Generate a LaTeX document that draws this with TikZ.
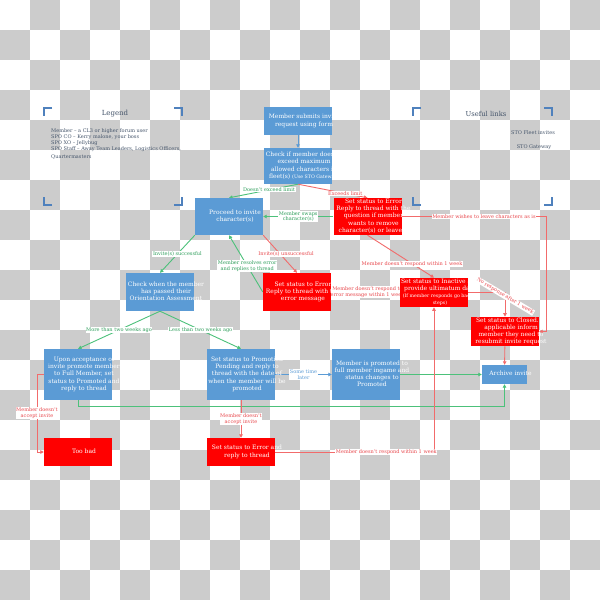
\documentclass[tikz,border=0pt]{standalone}
\usepackage{fontspec}
\setmainfont{DejaVu Serif}
\usetikzlibrary{arrows.meta,backgrounds}
\pgfdeclarelayer{links}
\pgfsetlayers{background,links,main}

\definecolor{boxblue}{HTML}{5B9BD5}
\definecolor{boxred}{HTML}{FF0000}
\definecolor{linegreen}{HTML}{4CC17A}
\definecolor{linered}{HTML}{F26B6B}
\definecolor{textgreen}{HTML}{2E9E5B}
\definecolor{textred}{HTML}{E8474C}
\definecolor{legendtext}{HTML}{44546A}
\definecolor{checkgray}{HTML}{CCCCCC}
\definecolor{bracketblue}{HTML}{4F81BD}

\newcommand{\tinytext}[1]{{\fontsize{4.7}{5.8}\selectfont #1}}
% box text sits a little right of centre, long lines run over the right edge
\newcommand{\boxlines}[1]{\hspace*{12pt}\begin{tabular}{@{}c@{}}#1\end{tabular}}

\tikzset{
    bluebox/.style={fill=boxblue, text=white, inner xsep=-20pt, inner ysep=0pt, minimum width=68pt, font=\fontsize{6}{7.3}\selectfont},
    redbox/.style={bluebox, fill=boxred},
    lbl/.style={fill=white, inner sep=0.6pt, align=center, font=\fontsize{5}{5.8}\selectfont},
    glbl/.style={lbl, text=textgreen},
    rlbl/.style={lbl, text=textred},
    tip/.style={-{Triangle[length=3.5pt,width=3.5pt]}},
    glink/.style={draw=linegreen, line width=0.9pt, tip},
    rlink/.style={draw=linered, line width=0.9pt, tip},
    blink/.style={draw=boxblue, line width=0.9pt, tip},
    bracket/.style={draw=bracketblue, line width=2pt},
    legendstyle/.style={text=legendtext, inner sep=0pt}
}

\begin{document}
\begin{tikzpicture}[x=1pt, y=-1pt]
    \useasboundingbox (0,0) rectangle (600,600);

    % checkerboard
    \begin{scope}[on background layer]
        \fill[white] (0,0) rectangle (600,600);
        \foreach \j in {0,...,19}
            \foreach \i in {0,2,...,18}
                \fill[checkgray] ({30*(\i+mod(\j+1,2))},30*\j) rectangle ++(30,30);
    \end{scope}

    % legend and links frames
    \foreach \cx/\cy/\sx/\sy in {44/108/1/1, 182/108/-1/1, 44/205/1/-1, 182/205/-1/-1, 413/108/1/1, 552/108/-1/1, 413/205/1/-1, 552/205/-1/-1}
        \draw[bracket] (\cx+8*\sx,\cy) -- (\cx,\cy) -- (\cx,\cy+8*\sy);

    \node[legendstyle, font=\fontsize{7}{8}\selectfont] (legendtitle) at (115,114) {Legend};
    \node[legendstyle, font=\fontsize{5}{6}\selectfont, align=left, anchor=north west] (legendbody) at (51,128.5)
        {Member – a CL3 or higher forum user\\SPO CO – Kerry malone, your boss\\SPO XO – Jellybug\\SPO Staff – Away Team Leaders, Logistics Officers,\\[2pt]Quartermasters};
    \node[legendstyle, font=\fontsize{6.8}{8}\selectfont] (linkstitle) at (486,114) {Useful links};
    \node[legendstyle, font=\fontsize{5}{6}\selectfont] (fleetlink) at (533,133) {STO Fleet invites};
    \node[legendstyle, font=\fontsize{5}{6}\selectfont] (gatewaylink) at (534,147) {STO Gateway};

    % boxes
    \node[bluebox, minimum height=28pt] (submit) at (298,121) {\boxlines{Member submits invite\\request using form}};
    \node[bluebox, minimum height=36pt] (check) at (298,166) {\boxlines{Check if member doesn't\\exceed maximum\\allowed characters in\\fleet(s) \tinytext{(Use STO Gateway)}}};
    \node[bluebox, minimum height=37pt] (proceed) at (229,216.5) {\boxlines{Proceed to invite\\character(s)}};
    \node[redbox, minimum height=37pt] (askerror) at (367.5,216.5) {\boxlines{Set status to Error\\Reply to thread with the\\question if member\\wants to remove\\character(s) or leave it}};
    \node[bluebox, minimum height=38pt] (orientation) at (160,292) {\boxlines{Check when the member\\has passed their\\Orientation Assessment}};
    \node[redbox, minimum height=38pt] (failerror) at (297,292) {\boxlines{Set status to Error\\Reply to thread with the\\error message}};
    \node[redbox, minimum height=29pt] (inactive) at (434,292.5) {\boxlines{Set status to Inactive and\\provide ultimatum date\\\tinytext{(If member responds go back 2}\\\tinytext{steps)}}};
    \node[redbox, minimum height=29pt] (closed) at (505,331.5) {\boxlines{Set status to Closed. If\\applicable inform\\member they need to\\resubmit invite request}};
    \node[bluebox, minimum width=45pt, minimum height=19pt] (archive) at (504.5,374.5) {\boxlines{Archive invite}};
    \node[bluebox, minimum height=51pt] (accept) at (78,374.5) {\boxlines{Upon acceptance of\\invite promote member\\to Full Member, set\\status to Promoted and\\reply to thread}};
    \node[bluebox, minimum height=51pt] (pending) at (241,374.5) {\boxlines{Set status to Promotion\\Pending and reply to\\thread with the date of\\when the member will be\\promoted}};
    \node[bluebox, minimum height=51pt] (promoted) at (366,374.5) {\boxlines{Member is promoted to\\full member ingame and\\status changes to\\Promoted}};
    \node[redbox, minimum height=28pt] (toobad) at (78,452) {\boxlines{Too bad}};
    \node[redbox, minimum height=28pt] (replyerror) at (241,452) {\boxlines{Set status to Error and\\reply to thread}};

    \coordinate (leavecorner) at (546,216.5);
    \coordinate (archivebase) at (504.5,406);
    \coordinate (toobadcorner) at (37,374.5);

    % connectors
    \begin{pgfonlayer}{links}
        \draw[blink] (submit) -- (check);
        \draw[glink] (check.south) -- node[glbl, pos=0.42] {Doesn't exceed limit} (proceed.north);
        \draw[rlink] (check.south) -- node[rlbl, pos=0.68] {Exceeds limit} (askerror.north);
        \draw[glink] (askerror.west) -- node[glbl] {Member swaps\\character(s)} (proceed.east);
        \draw[glink] (proceed.south west) -- node[glbl] {Invite(s) successful} (orientation.north);
        \draw[rlink] (proceed.south east) -- node[rlbl, xshift=6pt] {Invite(s) unsuccessful} (failerror.north);
        \draw[glink] (failerror.west) -- node[glbl, pos=0.46] {Member resolves error\\and replies to thread} (proceed.south);
        \draw[rlink] (failerror.east) -- node[rlbl, xshift=2pt] {Member doesn't respond to\\error message within 1 week} (inactive.west);
        \draw[rlink] (askerror.south) -- node[rlbl, pos=0.67] {Member doesn't respond within 1 week} (inactive.north);
        \draw[rlink] (askerror.east) -- node[rlbl, pos=0.57] {Member wishes to leave characters as is} (leavecorner) |- (closed.east);
        \draw[rlink] (inactive.east) -| node[rlbl, rotate=-31, pos=0.5, xshift=2pt, yshift=-3pt] {No response after 1 week} (closed.north);
        \draw[rlink] (closed) -- (archive);
        \draw[glink] (orientation.south) -- node[glbl] {More than two weeks ago} (accept.north);
        \draw[glink] (orientation.south) -- node[glbl] {Less than two weeks ago} (pending.north);
        \draw[blink] (pending) -- node[lbl, text=boxblue] {Some time\\later} (promoted);
        \draw[glink] (promoted) -- (archive);
        \draw[glink] (accept.south) |- (archivebase) -- (archive.south);
        \draw[rlink] (accept.west) -- (toobadcorner) |- node[rlbl, pos=0.25] {Member doesn't\\accept invite} (toobad.west);
        \draw[rlink] (pending) -- node[rlbl] {Member doesn't\\accept invite} (replyerror);
        \draw[rlink] (replyerror.east) -| node[rlbl, pos=0.35] {Member doesn't respond within 1 week} (inactive.south);
    \end{pgfonlayer}
\end{tikzpicture}
\end{document}
